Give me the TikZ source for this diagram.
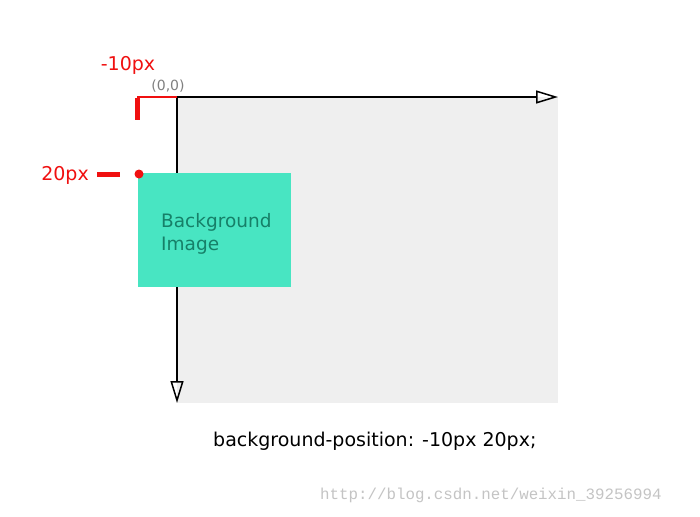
\documentclass[tikz,border=0pt]{standalone}
\usepackage{fontspec}
\setmainfont{DejaVu Sans}
\newfontfamily\wmfont{Liberation Mono}
\usetikzlibrary{arrows.meta}
\definecolor{panel}{HTML}{EFEFEF}
\definecolor{imgfill}{HTML}{48E5C2}
\definecolor{imgtext}{HTML}{168068}
\definecolor{redmark}{HTML}{F01010}
\definecolor{wm}{HTML}{C4C4C4}
\tikzset{
  axis/.style={draw=black, line width=1.6pt, -{Triangle[open, length=22pt, width=13pt, line width=1.5pt]}},
  redthick/.style={draw=redmark, line width=5pt},
  redthin/.style={draw=redmark, line width=2.2pt},
  lbl/.style={inner sep=0pt, font=\fontsize{19}{22}\selectfont},
}
\begin{document}
\begin{tikzpicture}[x=1pt, y=-1pt]
\useasboundingbox (0,0) rectangle (700,516);
\fill[white] (0,0) rectangle (700,516);
% panel
\fill[panel] (177,97) rectangle (558,403);
\coordinate (o) at (177,97);
\coordinate (xend) at (558,97);
\coordinate (yend) at (177,403);
\draw[axis] (o) -- (xend);
\draw[axis] (o) -- (yend);
% background image
\node[fill=imgfill, minimum width=153pt, minimum height=114pt, anchor=north west, inner sep=0pt] (img) at (138,173) {};
\node[anchor=north west, align=left, inner sep=0pt, text=imgtext, font=\fontsize{18.5}{23}\selectfont] (imgtxt) at (161,213) {Background\\Image};
% red markers
\coordinate (rc) at (137,97);
\coordinate (rv) at (137,120);
\draw[redthin] (rc) -- (o);
\draw[redthick] ([yshift=-1pt]rc) -- (rv);
\node[lbl, text=redmark] (m10) at (128,65) {-10px};
\node[inner sep=0pt, text=gray, font=\fontsize{14}{16}\selectfont] (orig) at (168,86) {(0,0)};
\node[circle, fill=redmark, minimum size=9pt, inner sep=0pt] (dot) at (139,174) {};
\coordinate (ds) at (97,174);
\coordinate (de) at (120,174);
\draw[redthick] (ds) -- (de);
\node[lbl, text=redmark, anchor=east] (p20) at (89,175) {20px};
% caption
\node[lbl, anchor=west, text=black] (cap) at (213,441) {background-position: -10px 20px;};
% watermark
\node[anchor=west, inner sep=0pt, text=wm, font=\wmfont\fontsize{15.8}{18}\selectfont] (wmk) at (320,495) {http://blog.csdn.net/weixin\_39256994};
\end{tikzpicture}
\end{document}
